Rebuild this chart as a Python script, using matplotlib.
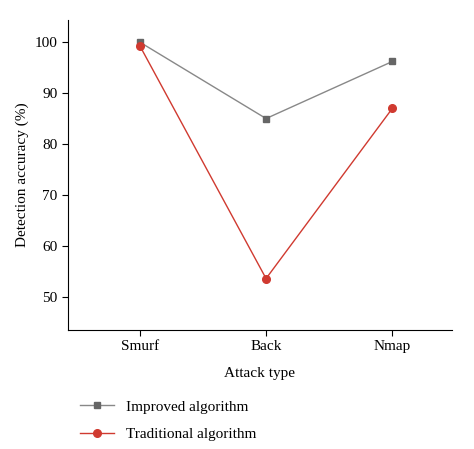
import matplotlib
matplotlib.use("Agg")
import matplotlib.pyplot as plt

matplotlib.rcParams.update({'font.family': 'Liberation Serif', 'font.size': 11})

attacks = ['Smurf', 'Back', 'Nmap']
improved = [100.0, 85.0, 96.2]
traditional = [99.3, 53.6, 87.0]

fig = plt.figure(figsize=(4.74, 4.49), dpi=100)
ax = fig.add_axes([0.143, 0.265, 0.81, 0.69])
x = range(len(attacks))
ax.plot(x, improved, color='#888888', marker='s', markersize=5,
        markerfacecolor='#666666', markeredgecolor='#666666', linewidth=1,
        label='Improved algorithm')
ax.plot(x, traditional, color='#d03a30', marker='o', markersize=5.5,
        linewidth=1, label='Traditional algorithm')
ax.set_xlim(-0.57, 2.47)
ax.set_ylim(43.5, 104.3)
ax.set_yticks([50, 60, 70, 80, 90, 100])
ax.set_xticks(list(x))
ax.set_xticklabels(attacks)
ax.spines['top'].set_visible(False)
ax.spines['right'].set_visible(False)
ax.tick_params(direction='out', length=4)
ax.set_xlabel('Attack type', labelpad=10)
ax.set_ylabel('Detection accuracy (%)')
fig.legend(loc='upper left', bbox_to_anchor=(0.14, 0.14), frameon=False,
           handlelength=2.2, labelspacing=0.9)
fig.savefig('out.png')
